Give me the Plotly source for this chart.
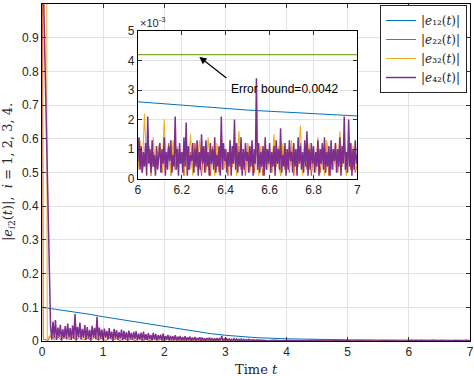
import numpy as np
import plotly.graph_objects as go

# ---------------- data ----------------
# |e12(t)| (smooth decay)
t_e12 = [0, 0.25, 0.5, 0.75, 1.0, 1.25, 1.5, 1.75, 2.0, 2.25, 2.5, 2.75, 3.0,
         3.25, 3.5, 4.0, 4.5, 5.0, 5.5, 6.0, 6.5, 7.0]
e12 = [0.100, 0.094, 0.087, 0.080, 0.072, 0.065, 0.057, 0.050, 0.042, 0.035,
       0.028, 0.022, 0.017, 0.013, 0.010, 0.0065, 0.0045, 0.0035, 0.0030,
       0.0026, 0.00232, 0.00212]

# initial transients
t_e22_start = [0.0, 0.02, 0.10]
e22_start = [2.0, 0.005, 0.002]
t_e32_start = [0.0, 0.075, 0.085]
e32_start = [1.5, 1.4, 0.005]
t_e42_start = [0.0]
e42_start = [1.25]

# early noisy part (values x1e-3)
e42_early_milli = [45, 4, 58, 9, 62, 3, 40, 12, 48, 2, 35, 8, 44, 5, 52, 10, 38, 3, 46, 7,
                   80, 2, 42, 11, 55, 4, 36, 9, 47, 3, 41, 7, 33, 2, 45, 10, 39, 5, 72, 3,
                   40, 8, 34, 2, 37, 9, 30, 4, 38, 6, 28, 1, 36, 8, 32, 3, 26, 7, 34, 2,
                   30, 5, 26, 1, 31, 7, 24, 3, 27, 6, 29, 2, 22, 5, 25, 1, 28, 4, 20, 3,
                   23, 5, 18, 1, 24, 4, 21, 2, 17, 5, 19, 1, 22, 3, 15, 4, 18, 1, 16, 3,
                   14, 2, 17, 1, 13, 3, 15, 1, 12, 2, 14, 1, 11, 3, 13, 1, 10, 2, 12, 1,
                   9, 2, 11, 1, 10, 2, 8, 1, 9, 2, 10, 1, 7, 2, 8, 1, 9, 1, 7, 2,
                   15, 1, 6, 2, 7, 1, 6, 2, 5, 1, 7, 1, 6, 2, 5, 1, 6, 1, 5, 1,
                   4, 1, 5, 1, 4, 1, 4, 1, 3]
e32_early_milli = [20, 4, 25, 3, 18, 5, 22, 2, 15, 4, 19, 3, 14, 2, 16, 3, 12, 2, 13, 3,
                   10, 2, 11, 2, 9, 1, 10, 2, 8, 1, 8, 2, 7, 1, 6, 1, 6, 1, 5, 1,
                   5, 1, 4, 1, 4, 1, 3, 1, 3, 1, 3, 1, 2, 1, 2, 1, 2]
e22_early_milli = [15, 3, 12, 2, 18, 4, 10, 2, 14, 3, 9, 2, 11, 2, 8, 1, 10, 2, 7, 1,
                   8, 2, 6, 1, 7, 1, 5, 1, 6, 1, 4, 1, 5, 1, 4, 1, 3, 1, 3, 1,
                   3, 1, 2, 1, 2, 1, 2, 1, 2, 1, 2, 1, 1, 1, 1, 1, 1]

# middle part t = 3.6 .. 5.9 (values x1e-4)
e42_mid = [25, 8, 20, 5, 18, 6, 15, 4, 14, 5, 12, 3, 12, 4, 10, 3, 11, 2, 10, 3, 9, 2, 10, 3]
e32_mid = [20, 6, 17, 4, 15, 5, 13, 3, 12, 4, 11, 2, 11, 3, 9, 2, 10, 2, 9, 3, 8, 2, 9, 2]
e22_mid = [16, 5, 14, 3, 12, 4, 11, 3, 10, 3, 9, 2, 9, 3, 8, 2, 8, 2, 8, 2, 7, 2, 8, 2]

# tail t = 6 .. 7 (values x1e-4)
e42_tail = [6, 14, 3, 11, 2, 9, 4, 12, 1, 21, 5, 10, 2, 13, 4, 8, 1, 11, 3, 9,
            12, 2, 10, 5, 14, 1, 9, 3, 11, 6, 13, 2, 8, 4, 21, 3, 10, 1, 12, 5,
            9, 2, 14, 4, 19, 1, 11, 3, 8, 6, 12, 2, 10, 4, 13, 1, 9, 3, 15, 5,
            11, 2, 13, 4, 9, 1, 12, 5, 10, 3, 14, 2, 8, 4, 11, 1, 21, 3, 12, 6,
            10, 2, 9, 4, 13, 1, 11, 5, 20, 3, 12, 2, 9, 4, 14, 1, 10, 3, 12, 6,
            9, 2, 11, 4, 13, 1, 10, 5, 34, 3, 12, 2, 9, 4, 11, 1, 14, 3, 10, 5,
            12, 2, 9, 4, 11, 1, 13, 5, 10, 3, 17, 2, 8, 4, 12, 1, 10, 3, 13, 6,
            9, 2, 12, 4, 10, 1, 14, 5, 11, 3, 9, 2, 13, 4, 16, 1, 10, 3, 12, 5,
            11, 2, 9, 4, 13, 1, 10, 5, 12, 3, 14, 2, 9, 4, 11, 1, 13, 3, 10, 6,
            12, 2, 10, 4, 14, 1, 11, 5, 21, 3, 9, 2, 20, 4, 12, 1, 10, 3, 13, 5,
            8]
e32_tail = [4, 13, 2, 22, 5, 11, 1, 14, 3, 9,
            12, 2, 20, 4, 10, 1, 13, 3, 11, 5,
            9, 2, 12, 4, 15, 1, 10, 3, 13, 6,
            11, 2, 14, 4, 9, 1, 12, 5, 15, 3,
            10, 2, 13, 4, 11, 1, 16, 5, 9, 3,
            12, 2, 10, 4, 14, 1, 11, 5, 13, 3,
            9, 2, 15, 4, 11, 1, 12, 5, 10, 3,
            13, 2, 10, 4, 18, 1, 11, 5, 12, 3,
            10, 2, 14, 4, 11, 1, 13, 5, 9, 3,
            12, 2, 16, 4, 10, 1, 14, 5, 11, 3,
            6]
e22_tail = [3, 10, 2, 8, 4, 11, 1, 9, 3, 7,
            10, 2, 8, 4, 12, 1, 9, 3, 7, 5,
            8, 1, 11, 3, 9, 2, 12, 4, 7, 1,
            10, 3, 8, 1, 11, 4, 9, 2, 12, 3,
            7, 1, 10, 4, 8, 2, 11, 3, 9, 1,
            12, 3, 8, 2, 10, 4, 7, 1, 11, 3,
            9, 2, 13, 4, 8, 1, 10, 3, 9, 2,
            11, 1, 8, 4, 12, 2, 9, 3, 10, 1,
            8, 3, 11, 2, 9, 4, 12, 1, 8, 3,
            10, 2, 9, 4, 13, 1, 8, 3, 10, 2,
            5]

error_bound = 0.0042

# ---------------- build series ----------------
def series(t_start, v_start, early_milli, early_step, mid, tail, tail_step):
    t = list(t_start)
    v = list(v_start)
    t += list(0.14 + early_step * np.arange(len(early_milli)))
    v += [x * 1e-3 for x in early_milli]
    t += list(3.6 + 0.1 * np.arange(len(mid)))
    v += [x * 1e-4 for x in mid]
    t += list(6.0 + tail_step * np.arange(len(tail)))
    v += [x * 1e-4 for x in tail]
    return t, v

t22, v22 = series(t_e22_start, e22_start, e22_early_milli, 0.06, e22_mid, e22_tail, 0.01)
t32, v32 = series(t_e32_start, e32_start, e32_early_milli, 0.06, e32_mid, e32_tail, 0.01)
t42, v42 = series(t_e42_start, e42_start, e42_early_milli, 0.02, e42_mid, e42_tail, 0.005)

COL_BLUE = "rgb(0,114,189)"
COL_RED = "rgb(217,83,25)"
COL_YEL = "rgb(237,177,32)"
COL_PUR = "rgb(126,47,142)"
COL_GRN = "rgb(119,172,48)"

SUB = {"1": "\u2081", "2": "\u2082", "3": "\u2083", "4": "\u2084"}

def lbl(idx):
    return "|<i>e</i>%s(<i>t</i>)|" % "".join(SUB[c] for c in idx)

fig = go.Figure()
specs = [(t_e12, e12, COL_BLUE, "12", 1.0, 1.0),
         (t22, v22, COL_RED, "22", 1.0, 1.0),
         (t32, v32, COL_YEL, "32", 1.0, 1.1),
         (t42, v42, COL_PUR, "42", 1.5, 1.5)]
for k, (tt, vv, c, nm, w, w2) in enumerate(specs):
    fig.add_trace(go.Scatter(x=tt, y=vv, mode="lines", line=dict(color=c, width=w),
                             marker=dict(color=c), name=lbl(nm), legendrank=k + 1,
                             xaxis="x", yaxis="y"))
# inset copies
for tt, vv, c, nm, w, w2 in specs:
    fig.add_trace(go.Scatter(x=tt, y=vv, mode="lines", line=dict(color=c, width=w2),
                             showlegend=False, xaxis="x2", yaxis="y2"))
fig.add_trace(go.Scatter(x=[6, 7], y=[error_bound, error_bound], mode="lines",
                         line=dict(color=COL_GRN, width=1.2), showlegend=False,
                         xaxis="x2", yaxis="y2"))

grid = "#e3e3e3"
axis_common = dict(showline=True, linecolor="black", linewidth=1, mirror="ticks",
                   ticks="inside", ticklen=4, tickcolor="#333", showgrid=True,
                   gridcolor=grid, zeroline=False, automargin=False,
                   tickfont=dict(family="Liberation Sans, Arial", size=12, color="#262626"))

serif = "DejaVu Serif, serif"
fig.update_layout(
    width=474, height=376,
    margin=dict(l=42, r=4, t=4, b=35),
    paper_bgcolor="white", plot_bgcolor="white",
    xaxis=dict(domain=[0, 1], range=[0, 7], dtick=1, anchor="y", **axis_common),
    yaxis=dict(domain=[0, 1], range=[0, 1], dtick=0.1, anchor="x", **axis_common),
    xaxis2=dict(domain=[0.224, 0.737], range=[6, 7], dtick=0.2, anchor="y2",
                **axis_common),
    yaxis2=dict(domain=[0.482, 0.920], range=[0, 0.005], anchor="x2",
                tickvals=[0, 0.001, 0.002, 0.003, 0.004, 0.005],
                ticktext=["0", "1", "2", "3", "4", "5"], **axis_common),
    legend=dict(x=0.993, y=0.997, xanchor="right", yanchor="top",
                bgcolor="white", bordercolor="#262626", borderwidth=1,
                font=dict(family=serif, size=12, color="#262626"),
                tracegroupgap=0),
    showlegend=True,
)

fig.add_annotation(x=0.5, y=-0.085, xref="paper", yref="paper", xanchor="center",
                   yanchor="middle", showarrow=False, text="Time <i>t</i>",
                   font=dict(family=serif, size=13, color="#262626"))
fig.add_annotation(x=-0.078, y=0.5, xref="paper", yref="paper", xanchor="center",
                   yanchor="middle", showarrow=False, textangle=-90,
                   text="|<i>e</i><sub><i>i</i>2</sub>(<i>t</i>)|,  <i>i</i> = 1, 2, 3, 4.",
                   font=dict(family=serif, size=13, color="#262626"))
fig.add_annotation(x=0.224, y=0.920, xref="paper", yref="paper", xanchor="left",
                   yanchor="bottom", showarrow=False, text="×10<sup>-3</sup>",
                   font=dict(family="Liberation Sans, Arial", size=11, color="#262626"))
fig.add_annotation(x=6.28, y=0.00412, xref="x2", yref="y2", ax=6.41, ay=0.00337,
                   axref="x2", ayref="y2", text="", showarrow=True, arrowhead=2,
                   arrowsize=1.2, arrowwidth=1.2, arrowcolor="black")
fig.add_annotation(x=6.67, y=0.00303, xref="x2", yref="y2", showarrow=False,
                   text="Error bound=0.0042", bgcolor="rgba(255,255,255,0)",
                   font=dict(family="Liberation Sans, Arial", size=12, color="black"))

fig.write_html("out.html", config={"displayModeBar": False},
               post_script="document.body.style.margin='0';document.body.style.overflow='hidden';")
